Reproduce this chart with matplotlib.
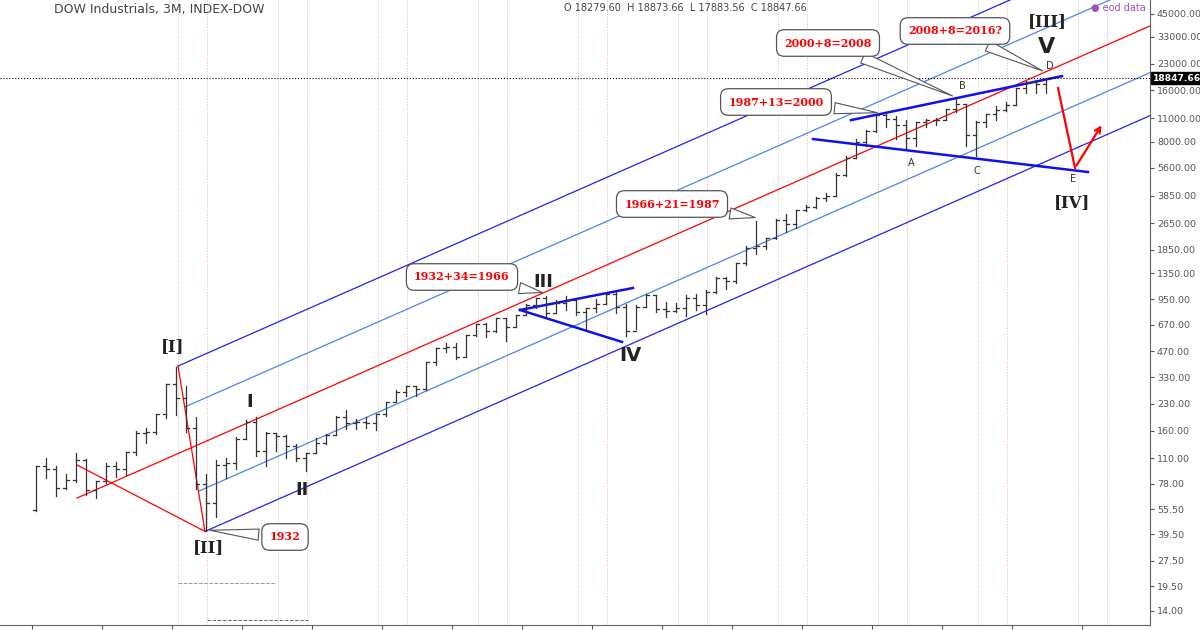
import numpy as np
import matplotlib.pyplot as plt

# yearly bars (DJIA), open = previous close
years = list(range(1915, 2017))
low = [54, 85, 66, 73, 80, 67, 64, 79, 86, 88, 115, 135, 153, 191, 199, 157, 73, 41, 50, 85,
       96, 143, 114, 99, 121, 111, 106, 93, 119, 134, 152, 163, 163, 165, 161, 196, 239, 256, 255, 279,
       388, 462, 420, 436, 574, 566, 610, 536, 647, 766, 840, 744, 786, 825, 769, 631, 798, 889, 788, 577,
       632, 859, 800, 742, 796, 759, 824, 777, 1027, 1087, 1184, 1502, 1739, 1879, 2144, 2365, 2470, 3136, 3242, 3593,
       3832, 5000, 6391, 7539, 9120, 9796, 8236, 7286, 7524, 9750, 10012, 10667, 11939, 7552, 6547, 9686, 10655, 12101, 13104, 15373,
       15370, 15450]
high = [99, 110, 99, 89, 119, 109, 81, 103, 105, 120, 159, 166, 202, 300, 381, 294, 194, 89, 108, 111,
        148, 185, 194, 158, 156, 152, 134, 119, 146, 153, 196, 213, 187, 193, 201, 236, 277, 292, 294, 404,
        488, 521, 521, 584, 679, 685, 735, 726, 767, 891, 969, 995, 943, 985, 968, 842, 950, 1036, 1052, 892,
        882, 1015, 999, 908, 897, 1000, 1024, 1071, 1287, 1287, 1553, 1956, 2722, 2184, 2791, 3000, 3169, 3413, 3794, 3978,
        5216, 6561, 8259, 9374, 11497, 11723, 11338, 10673, 10454, 10854, 10940, 12511, 14165, 13279, 10580, 11585, 12876, 13610, 16588, 18054,
        18351, 18873]
close = [99, 95, 74, 82, 107, 72, 81, 99, 95, 120, 156, 157, 202, 300, 248, 165, 78, 60, 100, 104,
         144, 180, 121, 155, 150, 131, 111, 119, 136, 152, 193, 177, 181, 177, 200, 235, 269, 292, 281, 404,
         488, 500, 436, 584, 679, 616, 731, 652, 763, 874, 969, 786, 905, 944, 800, 839, 890, 1020, 851, 616,
         852, 1005, 831, 805, 839, 964, 875, 1047, 1259, 1212, 1547, 1896, 1939, 2169, 2753, 2634, 3169, 3301, 3754, 3834,
         5117, 6448, 7908, 9181, 11497, 10787, 10021, 8342, 10454, 10783, 10718, 12463, 13265, 8776, 10428, 11578, 12218, 13104, 16577, 17823,
         17425, 18848]
opens = [55] + close[:-1]

ytick_vals = [14, 19.5, 27.5, 39.5, 55.5, 78, 110, 160, 230, 330, 470, 670, 950, 1350, 1850,
              2650, 3850, 5600, 8000, 11000, 16000, 23000, 33000, 45000]

# pitchfork: start points (year, price), common slope in decades/year
fork_slope = 0.02585
fork_lines = [((1919.6, 64.4), 'red'), ((1929.7, 384), '#2222ee'), ((1930.4, 221), '#4a86e8'),
              ((1931.8, 70.8), '#4a86e8'), ((1932.4, 41), '#2222ee')]
pivot_lines = [[(1919.6, 100.7), (1932.4, 41)], [(1932.4, 41), (1929.7, 384)]]
blue_lines = [[(1963.9, 820), (1975.2, 1104)], [(1963.9, 820), (1974.1, 532)],
              [(1997.0, 10700), (2018.1, 19400)], [(1993.2, 8280), (2020.7, 5300)]]
red_path = [(2017.7, 16500), (2019.4, 5600), (2022.2, 10300)]

X0, X1 = 1911.9, 2026.9


def P(x, y):
    return X0 + x / 10.0, 10 ** (4.735 - y / 170.2)


fig = plt.figure(figsize=(12, 6.3), dpi=100)
ax = fig.add_axes([0, 5 / 630, 1150 / 1200, 625 / 630])
ax.set_yscale('log')
ax.set_xlim(X0, X1)
ax.set_ylim(10 ** (4.735 - 625 / 170.2), 10 ** 4.735)

# vertical session lines
for k in range(10):
    ax.axvline(1929.7 + 10 * k, color='#a8d8a0', lw=0.7, ls=':')
    ax.axvline(1932.6 + 10 * k, color='#f0b0b0', lw=0.7, ls=':')

for (yr, p), c in fork_lines:
    xs = np.array([yr, X1])
    ax.plot(xs, p * 10 ** (fork_slope * (xs - yr)), color=c, lw=0.9)
for seg in pivot_lines:
    ax.plot(*zip(*seg), color='red', lw=0.9)
for seg in blue_lines:
    ax.plot(*zip(*seg), color='#1010ee', lw=1.8)
ax.plot(*zip(*red_path[:2]), color='red', lw=1.6)
ax.annotate('', xy=red_path[2], xytext=red_path[1],
            arrowprops=dict(arrowstyle='->', color='red', lw=1.6))

# bars
for yr, o, h, l, c in zip(years, opens, high, low, close):
    xm = yr + 0.5
    ax.plot([xm, xm], [l, h], color='#333333', lw=0.9)
    ax.plot([xm - 0.3, xm], [o, o], color='#333333', lw=0.9)
    ax.plot([xm, xm + 0.3], [c, c], color='#333333', lw=0.9)

ax.axhline(close[-1], color='black', lw=0.8, ls=':')
ax.plot(*zip(P(178, 583), P(276, 583)), color='#999999', lw=0.7, ls='--')
ax.plot(*zip(P(207, 620), P(308, 620)), color='#666666', lw=0.7, ls='--')

serif = dict(family='DejaVu Serif', color='#222222', fontweight='bold')
for s, x, y, fs in [('[I]', 173, 347, 12), ('[II]', 209, 548, 12), ('[III]', 1047, 22, 12),
                    ('[IV]', 1072, 203, 12)]:
    ax.text(*P(x, y), s, ha='center', va='center', fontsize=fs, **serif)
for s, x, y, fs in [('I', 250, 402, 13), ('II', 302, 490, 13), ('III', 543, 282, 13),
                    ('IV', 630, 355, 14), ('V', 1047, 47, 16)]:
    ax.text(*P(x, y), s, ha='center', va='center', fontsize=fs, fontweight='bold', color='#222222')
for s, x, y in [('A', 911, 163), ('B', 962, 86), ('C', 977, 171), ('D', 1050, 66), ('E', 1073, 179)]:
    ax.text(*P(x, y), s, ha='center', va='center', fontsize=7, color='#333333')

callouts = [('1932', (285, 537), (207, 530)), ('1932+34=1966', (462, 277), (545, 293)),
            ('1966+21=1987', (672, 204), (758, 218)), ('1987+13=2000', (776, 102), (880, 113)),
            ('2000+8=2008', (828, 43), (955, 97)), ('2008+8=2016?', (955, 31), (1045, 72))]
for s, (tx, ty), (px_, py_) in callouts:
    ax.annotate(s, xy=P(px_, py_), xytext=P(tx, ty), ha='center', va='center',
                fontsize=8, fontweight='bold', color='red', family='DejaVu Serif',
                bbox=dict(boxstyle='round,pad=0.7', fc='white', ec='#555555', lw=0.9),
                arrowprops=dict(arrowstyle='wedge,tail_width=1.0,shrink_factor=0.5',
                                fc='white', ec='#555555', lw=0.8))

ax.set_xticks(np.arange(1915.1, 2027, 7))
ax.set_xticklabels([])
ax.tick_params(axis='x', length=3, color='#555555')
ax.yaxis.tick_right()
ax.set_yticks(ytick_vals)
ax.set_yticklabels(['%.2f' % v for v in ytick_vals], fontsize=6.8, color='#555555')
ax.yaxis.set_minor_locator(plt.NullLocator())
ax.tick_params(axis='y', length=3, color='#555555', pad=2)
for sp in ['top', 'left']:
    ax.spines[sp].set_visible(False)
ax.spines['right'].set_color('#666666')
ax.spines['bottom'].set_color('#666666')

ax.annotate('%.2f' % 18847.66, xy=(1.0, close[-1]), xycoords=('axes fraction', 'data'),
            xytext=(2, 0), textcoords='offset points', va='center', fontsize=6.6,
            color='white', fontweight='bold', bbox=dict(boxstyle='square,pad=0.15', fc='black'))

fig.text(0.045, 0.995, 'DOW Industrials, 3M, INDEX-DOW', fontsize=9, color='#444444', va='top')
fig.text(0.47, 0.995, 'O 18279.60  H 18873.66  L 17883.56  C 18847.66', fontsize=7, color='#444444', va='top')
fig.text(0.955, 0.995, '● eod data', fontsize=7, color='#a050c0', va='top', ha='right')

fig.savefig('out.png', dpi=100)
